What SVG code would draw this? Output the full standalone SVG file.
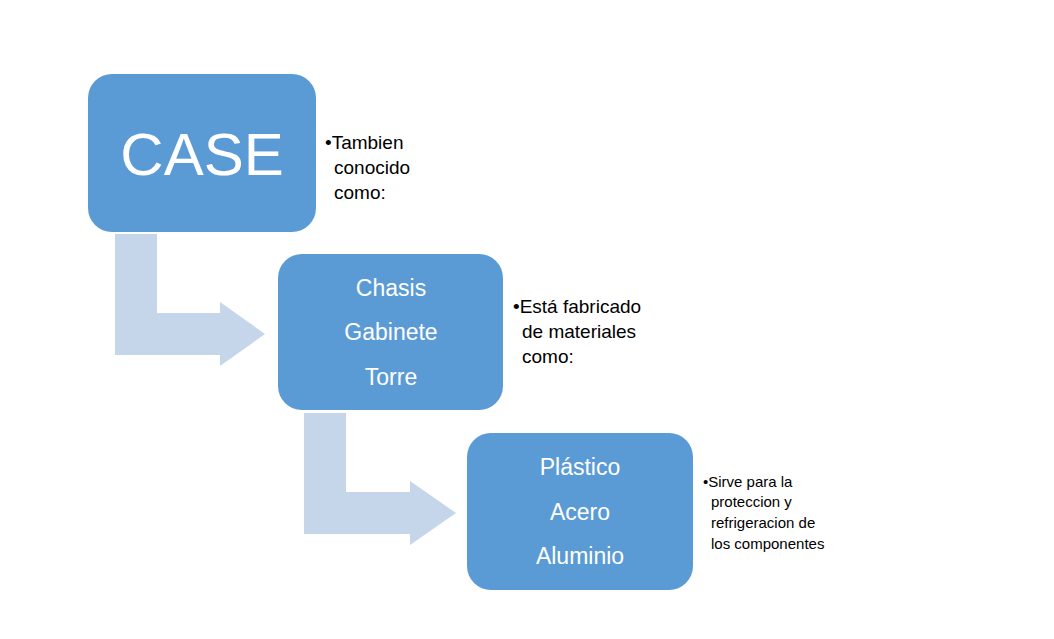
<svg xmlns="http://www.w3.org/2000/svg" width="1054" height="639" viewBox="0 0 1054 639">
<style>
.box{fill:#5B9BD5}
.arr{fill:#C5D5EA}
.t{font-family:"Liberation Sans",Arial,sans-serif;fill:#fff;text-anchor:middle}
.b{font-family:"Liberation Sans",Arial,sans-serif;fill:#000}
</style>
<rect width="1054" height="639" fill="#fff"/>
<g id="connectors">
<path class="arr" d="M115,234 H157 V313 H220 V302 L265,334 L220,366 V355 H115 Z"/>
<path class="arr" d="M304,413 H346 V492 H410 V481 L456,513 L410,545 V534 H304 Z"/>
</g>
<g id="case">
<rect class="box" x="88" y="74" width="228" height="158" rx="24"/>
<text class="t" x="202" y="175" font-size="60">CASE</text>
</g>
<g id="chasis">
<rect class="box" x="278" y="254" width="225" height="156" rx="24"/>
<text class="t" x="391" y="296" font-size="23">Chasis</text>
<text class="t" x="391" y="340" font-size="23">Gabinete</text>
<text class="t" x="391" y="385" font-size="23">Torre</text>
</g>
<g id="materiales">
<rect class="box" x="467" y="433" width="226" height="157" rx="24"/>
<text class="t" x="580" y="475" font-size="23">Plástico</text>
<text class="t" x="580" y="520" font-size="23">Acero</text>
<text class="t" x="580" y="564" font-size="23">Aluminio</text>
</g>
<g id="nota1" class="b" font-size="19">
<text x="325" y="149">•Tambien</text>
<text x="334" y="174">conocido</text>
<text x="334" y="199">como:</text>
</g>
<g id="nota2" class="b" font-size="19">
<text x="513" y="313">•Está fabricado</text>
<text x="522" y="338">de materiales</text>
<text x="522" y="363">como:</text>
</g>
<g id="nota3" class="b" font-size="15">
<text x="703" y="487">•Sirve para la</text>
<text x="711" y="507">proteccion y</text>
<text x="711" y="528">refrigeracion de</text>
<text x="711" y="549">los componentes</text>
</g>
</svg>
